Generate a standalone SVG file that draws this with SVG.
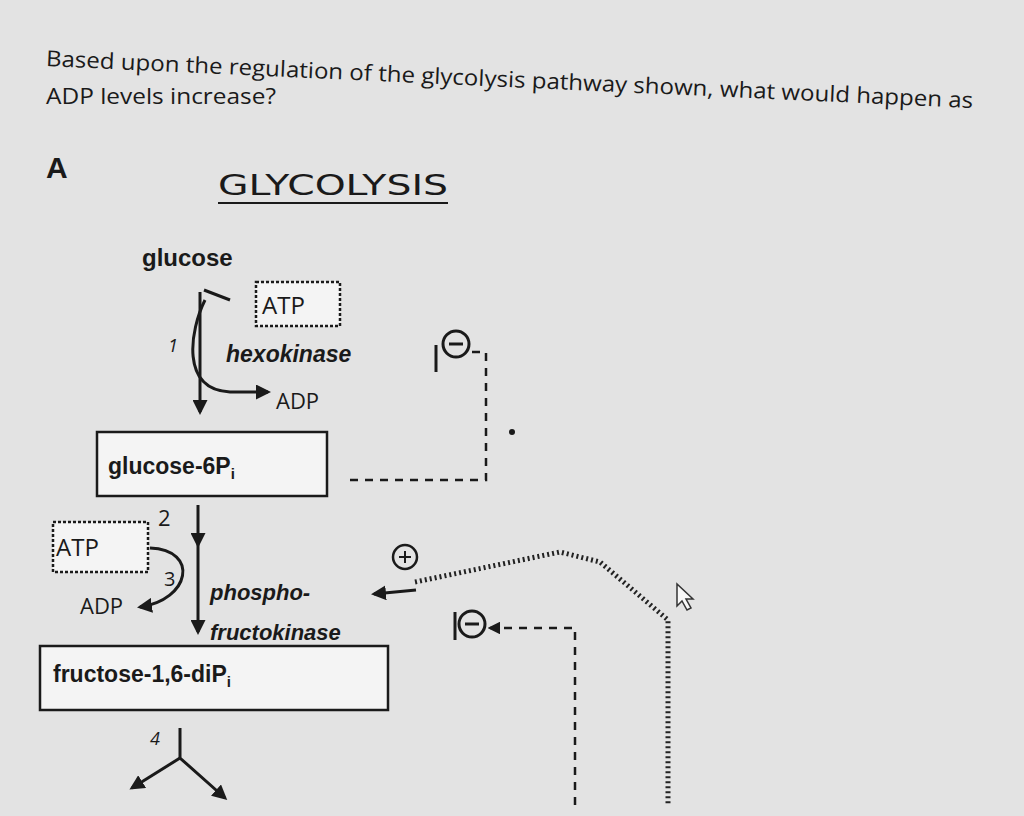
<svg xmlns="http://www.w3.org/2000/svg" width="1024" height="816" viewBox="0 0 1024 816">
<defs>
<style>
.t{font-family:"Open Sans","Liberation Sans",sans-serif;fill:#1a1a1a}
.b{font-family:"Liberation Sans",sans-serif;font-weight:bold;fill:#1a1a1a}
.ln{stroke:#1a1a1a;stroke-width:3;fill:none}
.box{fill:#f4f4f4;stroke:#1a1a1a;stroke-width:2.5}
.dash{stroke:#1a1a1a;stroke-width:2.5;fill:none;stroke-dasharray:8 7}
.dot{stroke:#222;stroke-width:5;fill:none;stroke-dasharray:2 3}
.wav{fill:#f4f4f4;stroke:#1a1a1a;stroke-width:2.5;stroke-dasharray:3 2}
</style>
<marker id="ah" viewBox="0 0 10 10" refX="8" refY="5" markerWidth="5" markerHeight="5" orient="auto"><path d="M0,0L10,5L0,10z" fill="#1a1a1a"/></marker>
</defs>
<rect width="1024" height="816" fill="#e3e3e3"/>
<g transform="rotate(2.6 46 60)">
<text class="t" x="46" y="66" font-size="22" textLength="928" lengthAdjust="spacingAndGlyphs">Based upon the regulation of the glycolysis pathway shown, what would happen as</text>
</g>
<text class="t" x="46" y="104" font-size="22" textLength="230" lengthAdjust="spacingAndGlyphs">ADP levels increase?</text>
<text class="b" x="46" y="178" font-size="30">A</text>
<g id="title"><text x="218" y="195" font-size="28" textLength="230" lengthAdjust="spacingAndGlyphs" style="font-family:'DejaVu Sans',sans-serif;fill:#1a1a1a">GLYCOLYSIS</text><line x1="218" y1="203" x2="448" y2="203" stroke="#1a1a1a" stroke-width="2"/></g>
<g id="glucose"><text class="b" x="142" y="266" font-size="24">glucose</text></g>
<g id="atp1"><rect class="wav" x="256" y="282" width="84" height="44"/><text class="t" x="262" y="314" font-size="24">ATP</text></g>
<g id="hexokinase"><text class="t" x="168" y="352" font-size="18" font-style="italic">1</text><text class="b" x="226" y="362" font-size="23" font-style="italic">hexokinase</text></g>
<g id="adp1"><text class="t" x="276" y="409" font-size="22">ADP</text></g>
<g id="g6p"><rect class="box" x="97" y="432" width="230" height="64"/><text class="b" x="108" y="474" font-size="23">glucose-6P<tspan font-size="15" dy="5">i</tspan></text></g>
<g id="atp2"><rect class="wav" x="53" y="522" width="95" height="50"/><text class="t" x="56" y="556" font-size="24">ATP</text></g>
<g id="pfk"><text class="t" x="158" y="526" font-size="22">2</text><text class="t" x="164" y="586" font-size="20">3</text><text class="b" x="210" y="600" font-size="22" font-style="italic">phospho-</text><text class="b" x="210" y="640" font-size="22" font-style="italic">fructokinase</text></g>
<g id="adp2"><text class="t" x="80" y="614" font-size="22">ADP</text></g>
<g id="f16"><rect class="box" x="40" y="646" width="348" height="64"/><text class="b" x="53" y="682" font-size="23">fructose-1,6-diP<tspan font-size="15" dy="5">i</tspan></text></g>
<g id="step4"><text class="t" x="150" y="745" font-size="18" font-style="italic">4</text></g>
<g id="inh1"><circle cx="456" cy="344" r="13" fill="none" stroke="#1a1a1a" stroke-width="3"/><line x1="449" y1="344" x2="463" y2="344" stroke="#1a1a1a" stroke-width="3"/><path class="ln" d="M436 345V372"/></g>
<g id="act"><circle cx="405" cy="557" r="12" fill="none" stroke="#1a1a1a" stroke-width="2.5"/><path d="M399 557h12M405 551v12" stroke="#1a1a1a" stroke-width="2"/></g>
<g id="inh2"><circle cx="472" cy="624" r="13" fill="none" stroke="#1a1a1a" stroke-width="3"/><line x1="465" y1="624" x2="479" y2="624" stroke="#1a1a1a" stroke-width="3"/><path class="ln" d="M455 612V640"/></g>
<g id="connectors">
<path class="ln" d="M200 292V412" marker-end="url(#ah)"/>
<path class="ln" d="M204 290L230 300"/>
<path class="ln" d="M205 300C190 330 180 390 230 392H268" marker-end="url(#ah)"/>
<path class="dash" d="M472 352H486V480H345"/>
<path class="ln" d="M198 505V545" marker-end="url(#ah)"/>
<path class="ln" d="M198 545V632" marker-end="url(#ah)"/>
<path class="ln" d="M150 548C200 550 190 600 140 607" marker-end="url(#ah)"/>
<path class="dot" d="M415 582L560 552L600 562L668 620V805"/>
<path class="ln" d="M416 590L374 594" marker-end="url(#ah)"/>
<path class="dash" d="M575 805V628H490" marker-end="url(#ah)"/>
<path class="ln" d="M180 728V758L225 798" marker-end="url(#ah)"/>
<path class="ln" d="M180 758L132 788" marker-end="url(#ah)"/>
<circle cx="512" cy="432" r="3" fill="#1a1a1a"/>
</g>
<path d="M677 584l0 22l5-5l5 9l4-2l-5-9h7z" fill="#f8f8f8" stroke="#333" stroke-width="1.5"/>
</svg>
